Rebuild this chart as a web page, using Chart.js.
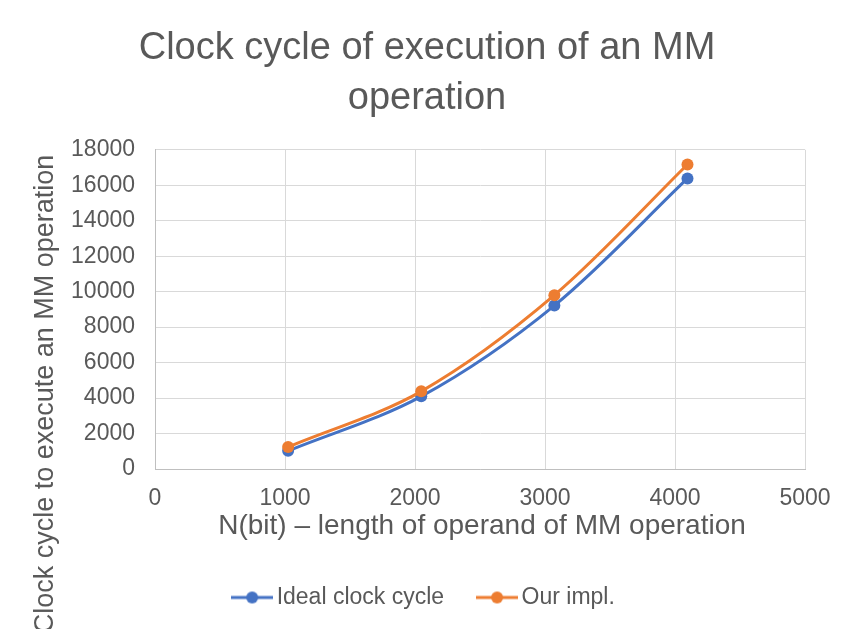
<!DOCTYPE html>
<html>
<head>
<meta charset="utf-8">
<script src="https://cdn.jsdelivr.net/npm/chart.js@4/dist/chart.umd.min.js"></script>
<style>
  html, body { margin: 0; padding: 0; background: #ffffff; }
  #wrap { width: 854px; height: 629px; position: relative; }
</style>
</head>
<body>
<div id="wrap"><canvas id="c" width="854" height="629"></canvas></div>
<script>
// ---- data ----
const nBits = [1024, 2048, 3072, 4096];
const idealCycles = [1024, 4096, 9216, 16384];
const ourImplCycles = [1240, 4380, 9800, 17170];
const seriesNames = ['Ideal clock cycle', 'Our impl.'];
const chartTitle = ['Clock cycle of execution of an MM', 'operation'];
const xAxisTitle = 'N(bit) \u2013 length of operand of MM operation';
const yAxisTitle = 'Clock cycle to execute an MM operation';

const BLUE = '#4472C4';
const ORANGE = '#ED7D31';
const TEXT = '#595959';
const FONT = "'Liberation Sans', Arial, sans-serif";

function legendIcon(color) {
  const cv = document.createElement('canvas');
  cv.width = 42; cv.height = 14;
  const g = cv.getContext('2d');
  g.strokeStyle = color; g.lineWidth = 3;
  g.beginPath(); g.moveTo(0, 7); g.lineTo(42, 7); g.stroke();
  g.fillStyle = color;
  g.beginPath(); g.arc(21, 7, 6, 0, Math.PI * 2); g.fill();
  return cv;
}
const icons = [legendIcon(BLUE), legendIcon(ORANGE)];

const axisTitles = {
  id: 'axisTitles',
  afterDraw(chart) {
    const ctx = chart.ctx, a = chart.chartArea;
    ctx.save();
    ctx.fillStyle = TEXT;
    ctx.textAlign = 'center';
    ctx.textBaseline = 'middle';
    ctx.font = '28px ' + FONT;
    ctx.fillText(xAxisTitle, (a.left + a.right) / 2 + 2, 526);
    ctx.translate(46, 394);
    ctx.rotate(-Math.PI / 2);
    ctx.font = '27px ' + FONT;
    ctx.fillText(yAxisTitle, 0, 0);
    ctx.restore();
  }
};

new Chart(document.getElementById('c'), {
  type: 'line',
  data: {
    datasets: [
      {
        label: seriesNames[0],
        data: nBits.map((x, i) => ({ x: x, y: idealCycles[i] })),
        borderColor: BLUE, backgroundColor: BLUE,
        pointBackgroundColor: BLUE, pointBorderColor: BLUE,
        borderWidth: 3, pointRadius: 6, pointBorderWidth: 0,
        tension: 0.33, order: 1
      },
      {
        label: seriesNames[1],
        data: nBits.map((x, i) => ({ x: x, y: ourImplCycles[i] })),
        borderColor: ORANGE, backgroundColor: ORANGE,
        pointBackgroundColor: ORANGE, pointBorderColor: ORANGE,
        borderWidth: 3, pointRadius: 6, pointBorderWidth: 0,
        tension: 0.33, order: 0
      }
    ]
  },
  options: {
    responsive: false,
    animation: false,
    devicePixelRatio: 1,
    layout: { padding: { left: 24, right: 24, top: 0, bottom: 10 } },
    plugins: {
      tooltip: { enabled: false },
      title: {
        display: true,
        text: chartTitle,
        color: TEXT,
        font: { family: FONT, size: 38, weight: 'normal', lineHeight: 1.3 },
        padding: { top: 24, bottom: 27 }
      },
      legend: {
        position: 'bottom',
        labels: {
          color: TEXT,
          font: { family: FONT, size: 23 },
          usePointStyle: true,
          pointStyleWidth: 26,
          boxHeight: 14,
          padding: 40,
          generateLabels() {
            return seriesNames.map((name, i) => ({
              text: name,
              pointStyle: icons[i],
              fillStyle: i ? ORANGE : BLUE,
              strokeStyle: i ? ORANGE : BLUE,
              lineWidth: 0,
              fontColor: TEXT,
              hidden: false,
              datasetIndex: i
            }));
          }
        }
      }
    },
    scales: {
      x: {
        type: 'linear',
        min: 0, max: 5000,
        ticks: { stepSize: 1000, color: TEXT, font: { family: FONT, size: 23 }, padding: 16,
                 callback: v => String(v) },
        grid: { color: '#d9d9d9', lineWidth: 1, drawTicks: false },
        border: { color: '#bfbfbf', width: 1 },
        afterFit(scale) { scale.height = 77; }
      },
      y: {
        type: 'linear',
        min: 0, max: 18000,
        ticks: { stepSize: 2000, color: TEXT, font: { family: FONT, size: 23 }, padding: 20,
                 callback: v => String(v) },
        grid: { color: '#d9d9d9', lineWidth: 1, drawTicks: false },
        border: { color: '#bfbfbf', width: 1 },
        afterFit(scale) { scale.width = 131; }
      },
      ySpacer: {
        type: 'linear',
        position: 'right',
        display: true,
        min: 0, max: 18000,
        ticks: { display: false },
        grid: { display: false, drawTicks: false },
        border: { display: false },
        afterFit(scale) { scale.width = 25; }
      }
    }
  },
  plugins: [axisTitles]
});
</script>
</body>
</html>
